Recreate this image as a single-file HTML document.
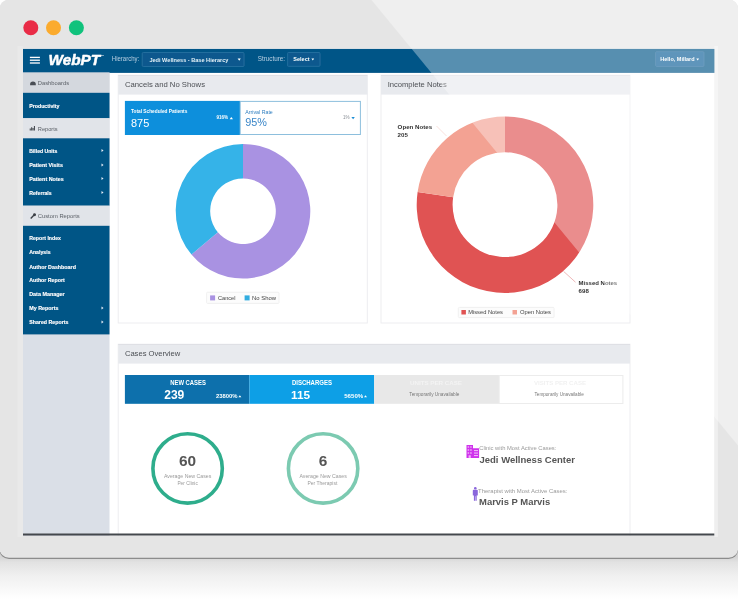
<!DOCTYPE html>
<html lang="en">
<head>
<meta charset="utf-8">
<title>WebPT Analytics Dashboard</title>
<style>
html,body{margin:0;padding:0;background:#ffffff;}
body{width:738px;height:608px;overflow:hidden;}
svg{display:block;font-family:"Liberation Sans",sans-serif;}
</style>
</head>
<body>
<svg width="738" height="608" viewBox="0 0 738 608">
<defs>
<linearGradient id="shadow" x1="0" y1="0" x2="0" y2="1">
<stop offset="0" stop-color="#d4d4d4"/><stop offset="0.143" stop-color="#d4d4d4"/><stop offset="0.25" stop-color="#e2e2e2"/><stop offset="0.53" stop-color="#f0f0f0"/><stop offset="1" stop-color="#ffffff"/>
</linearGradient>
<filter id="soft" x="0" y="0" width="738" height="608" filterUnits="userSpaceOnUse"><feGaussianBlur stdDeviation="0.35"/></filter>
<clipPath id="frameclip"><rect x="-0.5" y="-0.5" width="738.6" height="558.2" rx="9.5" ry="9.5"/></clipPath>
<clipPath id="screen"><rect x="23" y="48.7" width="691.3" height="487"/></clipPath>
</defs>
<rect x="0" y="0" width="738" height="608" fill="#ffffff"/>
<rect x="0" y="550" width="738" height="49" fill="url(#shadow)"/>
<rect x="-0.5" y="0.9" width="738.6" height="558.2" rx="9.5" ry="9.5" fill="#8c8c8c"/>
<rect x="-0.5" y="-0.5" width="738.6" height="558.2" rx="9.5" ry="9.5" fill="#e5e5e5"/>
<path d="M371.5 0L738 445.6V0Z" fill="#efefef" clip-path="url(#frameclip)"/>
<circle cx="30.8" cy="27.8" r="7.5" fill="#e92c47"/>
<circle cx="53.5" cy="27.8" r="7.5" fill="#fbab2e"/>
<circle cx="76.4" cy="27.8" r="7.5" fill="#10c27c"/>
<rect x="714.3" y="46" width="3.6" height="491" fill="#ffffff" opacity="0.4"/>
<rect x="17.5" y="46" width="5.5" height="491" fill="#ffffff" opacity="0.18"/>
<g clip-path="url(#screen)"><g filter="url(#soft)">
<rect x="23" y="48" width="692" height="488" fill="#ffffff"/>
<rect x="23" y="48.7" width="692" height="24.2" fill="#055587"/>
<rect x="29.9" y="56.75" width="10" height="1.3" fill="#ffffff"/>
<rect x="29.9" y="59.55" width="10" height="1.3" fill="#ffffff"/>
<rect x="29.9" y="62.35" width="10" height="1.3" fill="#ffffff"/>
<text x="48.50" y="65.1" stroke="#ffffff" stroke-width="0.45" stroke-linejoin="round" font-size="14.40" fill="#ffffff" font-weight="700" font-style="italic" textLength="51.60" lengthAdjust="spacingAndGlyphs">WebPT</text>
<text x="100.6" y="56.4" font-size="2.2" fill="#ffffff" opacity="0.8" font-weight="700">TM</text>
<text x="111.80" y="61.32" font-size="6.74" fill="#b3cfe2" textLength="27.40" lengthAdjust="spacingAndGlyphs">Hierarchy:</text>
<rect x="142.3" y="52.5" width="101.7" height="14" rx="1" fill="#07598e" stroke="#2f78a6" stroke-width="0.7"/>
<text x="149.40" y="61.87" font-size="6.04" fill="#e6f0f7" font-weight="700" textLength="79.10" lengthAdjust="spacingAndGlyphs">Jedi Wellness - Base Hierarcy</text>
<path d="M237.6 58.5h3.2l-1.6 2.2z" fill="#ffffff"/>
<text x="257.70" y="61.34" font-size="7.05" fill="#b3cfe2" textLength="27.30" lengthAdjust="spacingAndGlyphs">Structure:</text>
<rect x="287.6" y="52.5" width="32.4" height="13.8" rx="1" fill="#07598e" stroke="#2f78a6" stroke-width="0.7"/>
<text x="293.30" y="61.39" font-size="5.53" fill="#ffffff" font-weight="700" textLength="16.30" lengthAdjust="spacingAndGlyphs">Select</text>
<path d="M311.4 58.6h2.8l-1.4 1.9z" fill="#ffffff"/>
<rect x="655.6" y="51.8" width="48.4" height="14.6" rx="1" fill="#0a5f98" stroke="#2770a2" stroke-width="0.7"/>
<text x="660.30" y="61.18" font-size="5.51" fill="#ffffff" font-weight="700" textLength="34.30" lengthAdjust="spacingAndGlyphs">Hello, Millard</text>
<path d="M696.3 58.5h2.8l-1.4 1.9z" fill="#ffffff"/>
<rect x="23" y="72.6" width="86.5" height="464" fill="#dadfe7"/>
<rect x="23" y="72.6" width="86.5" height="20.2" fill="#d4d8de"/>
<rect x="23" y="92.8" width="86.5" height="25.4" fill="#055486"/>
<rect x="23" y="118.2" width="86.5" height="20.1" fill="#e1e4e9"/>
<rect x="23" y="138.3" width="86.5" height="67.4" fill="#055486"/>
<rect x="23" y="205.7" width="86.5" height="20.1" fill="#e1e4e9"/>
<rect x="23" y="225.8" width="86.5" height="108.6" fill="#055486"/>
<path d="M30.1 84.3a2.85 2.85 0 0 1 5.7 0v0.9h-5.7z" fill="#4a4e54"/>
<text x="37.80" y="85.09" font-size="5.81" fill="#5a5f66" textLength="31.30" lengthAdjust="spacingAndGlyphs">Dashboards</text>
<path d="M29.7 130.6v-2.2h1.1v2.2zm1.4 0v-3.4h1.1v3.4zm1.4 0v-2.6h1.1v2.6zm1.4 0v-4.5h1.1v4.5z" fill="#4a4e54"/>
<text x="37.80" y="130.65" font-size="5.68" fill="#5a5f66" textLength="19.90" lengthAdjust="spacingAndGlyphs">Reports</text>
<path d="M30.2 218l2.9-2.9a1.5 1.5 0 1 1 1 1l-2.9 2.9z" fill="#3c4046"/>
<text x="37.80" y="218.39" font-size="5.80" fill="#5a5f66" textLength="41.90" lengthAdjust="spacingAndGlyphs">Custom Reports</text>
<text stroke="#ffffff" stroke-width="0.15" x="29.20" y="107.87" font-size="6.03" fill="#ffffff" font-weight="700" textLength="30.30" lengthAdjust="spacingAndGlyphs">Productivity</text>
<text stroke="#ffffff" stroke-width="0.15" x="29.20" y="152.62" font-size="5.88" fill="#ffffff" font-weight="700" textLength="28.10" lengthAdjust="spacingAndGlyphs">Billed Units</text>
<path d="M101.5 149.00l2 1.5l-2 1.5z" fill="#e8f1f8"/>
<text stroke="#ffffff" stroke-width="0.15" x="29.20" y="167.13" font-size="6.19" fill="#ffffff" font-weight="700" textLength="33.70" lengthAdjust="spacingAndGlyphs">Patient Visits</text>
<path d="M101.5 163.40l2 1.5l-2 1.5z" fill="#e8f1f8"/>
<text stroke="#ffffff" stroke-width="0.15" x="29.20" y="180.84" font-size="6.21" fill="#ffffff" font-weight="700" textLength="34.50" lengthAdjust="spacingAndGlyphs">Patient Notes</text>
<path d="M101.5 177.10l2 1.5l-2 1.5z" fill="#e8f1f8"/>
<text stroke="#ffffff" stroke-width="0.15" x="29.20" y="194.55" font-size="5.97" fill="#ffffff" font-weight="700" textLength="22.50" lengthAdjust="spacingAndGlyphs">Referrals</text>
<path d="M101.5 190.90l2 1.5l-2 1.5z" fill="#e8f1f8"/>
<text stroke="#ffffff" stroke-width="0.15" x="29.20" y="240.25" font-size="5.98" fill="#ffffff" font-weight="700" textLength="31.80" lengthAdjust="spacingAndGlyphs">Report Index</text>
<text stroke="#ffffff" stroke-width="0.15" x="29.20" y="254.45" font-size="5.98" fill="#ffffff" font-weight="700" textLength="21.40" lengthAdjust="spacingAndGlyphs">Analysis</text>
<text stroke="#ffffff" stroke-width="0.15" x="29.20" y="268.50" font-size="6.12" fill="#ffffff" font-weight="700" textLength="46.70" lengthAdjust="spacingAndGlyphs">Author Dashboard</text>
<text stroke="#ffffff" stroke-width="0.15" x="29.20" y="282.27" font-size="6.02" fill="#ffffff" font-weight="700" textLength="35.50" lengthAdjust="spacingAndGlyphs">Author Report</text>
<text stroke="#ffffff" stroke-width="0.15" x="29.20" y="296.04" font-size="6.23" fill="#ffffff" font-weight="700" textLength="35.50" lengthAdjust="spacingAndGlyphs">Data Manager</text>
<text stroke="#ffffff" stroke-width="0.15" x="29.20" y="310.23" font-size="6.19" fill="#ffffff" font-weight="700" textLength="29.30" lengthAdjust="spacingAndGlyphs">My Reports</text>
<path d="M101.5 306.50l2 1.5l-2 1.5z" fill="#e8f1f8"/>
<text stroke="#ffffff" stroke-width="0.15" x="29.20" y="324.08" font-size="6.05" fill="#ffffff" font-weight="700" textLength="39.20" lengthAdjust="spacingAndGlyphs">Shared Reports</text>
<path d="M101.5 320.40l2 1.5l-2 1.5z" fill="#e8f1f8"/>
<rect x="118.2" y="75.2" width="249.10000000000002" height="247.8" fill="#ffffff" stroke="#ededf0" stroke-width="1"/>
<rect x="118.2" y="75.2" width="249.10000000000002" height="19.4" fill="#e8eaee"/>
<rect x="118.2" y="75.2" width="249.10000000000002" height="0.8" fill="#dcdee3"/>
<text x="124.90" y="87.27" font-size="7.71" fill="#4c4f54" textLength="80.10" lengthAdjust="spacingAndGlyphs">Cancels and No Shows</text>
<rect x="381" y="75.2" width="249" height="247.8" fill="#ffffff" stroke="#ededf0" stroke-width="1"/>
<rect x="381" y="75.2" width="249" height="19.4" fill="#e8eaee"/>
<rect x="381" y="75.2" width="249" height="0.8" fill="#dcdee3"/>
<text x="387.70" y="87.23" font-size="7.60" fill="#4c4f54" textLength="59.10" lengthAdjust="spacingAndGlyphs">Incomplete Notes</text>
<rect x="118.2" y="344.2" width="511.8" height="215.8" fill="#ffffff" stroke="#ededf0" stroke-width="1"/>
<rect x="118.2" y="344.2" width="511.8" height="19.4" fill="#e8eaee"/>
<rect x="118.2" y="344.2" width="511.8" height="0.8" fill="#dcdee3"/>
<text x="124.90" y="356.24" font-size="7.61" fill="#4c4f54" textLength="55.40" lengthAdjust="spacingAndGlyphs">Cases Overview</text>
<rect x="124.9" y="100.9" width="115.3" height="34.1" fill="#0c8fdc"/>
<rect x="240.2" y="101.4" width="120.2" height="33.1" fill="#ffffff" stroke="#8dbfdd" stroke-width="1"/>
<text x="131.00" y="113.42" font-size="4.76" fill="#ffffff" font-weight="700" textLength="56.30" lengthAdjust="spacingAndGlyphs">Total Scheduled Patients</text>
<text x="131.00" y="126.55" font-size="11.52" fill="#ffffff" textLength="18.30" lengthAdjust="spacingAndGlyphs">875</text>
<text x="216.40" y="119.43" font-size="4.54" fill="#ffffff" font-weight="700" textLength="11.60" lengthAdjust="spacingAndGlyphs">916%</text>
<path d="M229.6 119.2h3.4l-1.7-2.2z" fill="#ffffff"/>
<text x="245.30" y="113.60" font-size="5.26" fill="#2f7fc0" textLength="27.50" lengthAdjust="spacingAndGlyphs">Arrival Rate</text>
<text x="245.30" y="126.30" font-size="10.84" fill="#3a86c8" textLength="21.70" lengthAdjust="spacingAndGlyphs">95%</text>
<text x="342.90" y="119.44" font-size="4.57" fill="#8a8f96" textLength="6.60" lengthAdjust="spacingAndGlyphs">1%</text>
<path d="M351.4 117h3.4l-1.7 2.2z" fill="#1f8fd6"/>
<path d="M243.00 143.90A67.3 67.3 0 1 1 191.45 254.46L217.87 232.28A32.8 32.8 0 1 0 243.00 178.40Z" fill="#a992e2"/>
<path d="M191.45 254.46A67.3 67.3 0 0 1 243.00 143.90L243.00 178.40A32.8 32.8 0 0 0 217.87 232.28Z" fill="#36b3e8"/>
<rect x="206.6" y="292.2" width="72.4" height="11.2" rx="1" fill="#fcfcfc" stroke="#ebebeb" stroke-width="0.7"/>
<rect x="210.1" y="295.4" width="5" height="5" fill="#a992e2"/>
<text x="218.00" y="300.02" font-size="5.62" fill="#444" textLength="17.50" lengthAdjust="spacingAndGlyphs">Cancel</text>
<rect x="244.6" y="295.4" width="5" height="5" fill="#30ade0"/>
<text x="252.00" y="300.13" font-size="5.91" fill="#444" textLength="24.00" lengthAdjust="spacingAndGlyphs">No Show</text>
<path d="M505.00 116.40A88.3 88.3 0 1 1 417.62 191.95L453.15 197.14A52.4 52.4 0 1 0 505.00 152.30Z" fill="#e05252"/>
<path d="M417.62 191.95A88.3 88.3 0 0 1 505.00 116.40L505.00 152.30A52.4 52.4 0 0 0 453.15 197.14Z" fill="#f3a293"/>
<text x="397.60" y="129.12" font-size="6.17" fill="#333" font-weight="700" textLength="34.60" lengthAdjust="spacingAndGlyphs">Open Notes</text>
<text x="397.60" y="137.30" font-size="6.11" fill="#333" font-weight="700" textLength="10.20" lengthAdjust="spacingAndGlyphs">205</text>
<path d="M436.5 126L446.5 136" stroke="#f6d6d0" stroke-width="0.7" fill="none"/>
<text x="578.60" y="285.16" font-size="5.99" fill="#333" font-weight="700" textLength="38.60" lengthAdjust="spacingAndGlyphs">Missed Notes</text>
<text x="578.60" y="293.10" font-size="6.11" fill="#333" font-weight="700" textLength="10.20" lengthAdjust="spacingAndGlyphs">698</text>
<path d="M563.5 271.3L575.5 282.2" stroke="#eaa4a6" stroke-width="0.8" fill="none"/>
<rect x="458.3" y="307.4" width="95.8" height="10.2" rx="1" fill="#fcfcfc" stroke="#ebebeb" stroke-width="0.7"/>
<rect x="461.4" y="310" width="4.5" height="4.5" fill="#e05252"/>
<text x="468.20" y="314.37" font-size="5.75" fill="#444" textLength="34.80" lengthAdjust="spacingAndGlyphs">Missed Notes</text>
<rect x="512.5" y="310" width="4.5" height="4.5" fill="#f3a293"/>
<text x="520.00" y="314.39" font-size="5.81" fill="#444" textLength="31.00" lengthAdjust="spacingAndGlyphs">Open Notes</text>
<rect x="124.9" y="375" width="124.5" height="28.8" fill="#0970ac"/>
<rect x="249.4" y="375" width="124.8" height="28.8" fill="#0a9fe6"/>
<rect x="374.2" y="375" width="125" height="28.8" fill="#e8e8e8"/>
<rect x="499.2" y="375.5" width="123.7" height="28" fill="#ffffff" stroke="#ececec" stroke-width="1"/>
<text x="170.20" y="384.59" font-size="6.37" fill="#ffffff" font-weight="700" textLength="35.70" lengthAdjust="spacingAndGlyphs">NEW CASES</text>
<text x="164.20" y="399.44" font-size="12.05" fill="#ffffff" font-weight="700" textLength="20.10" lengthAdjust="spacingAndGlyphs">239</text>
<text x="216.00" y="397.72" font-size="5.89" fill="#ffffff" font-weight="700" textLength="21.60" lengthAdjust="spacingAndGlyphs">23800%</text>
<path d="M238.4 397.2h3l-1.5-2z" fill="#ffffff"/>
<text x="291.90" y="384.64" font-size="6.50" fill="#ffffff" font-weight="700" textLength="40.10" lengthAdjust="spacingAndGlyphs">DISCHARGES</text>
<text x="291.00" y="399.34" font-size="11.78" fill="#ffffff" font-weight="700" textLength="19.00" lengthAdjust="spacingAndGlyphs">115</text>
<text x="344.20" y="397.81" font-size="6.13" fill="#ffffff" font-weight="700" textLength="19.10" lengthAdjust="spacingAndGlyphs">5650%</text>
<path d="M364 397.2h3l-1.5-2z" fill="#ffffff"/>
<text x="410.00" y="384.63" font-size="6.20" fill="#f3f3f3" font-weight="700" textLength="52.00" lengthAdjust="spacingAndGlyphs">UNITS PER CASE</text>
<text x="409.30" y="396.29" font-size="4.70" fill="#777" textLength="50.10" lengthAdjust="spacingAndGlyphs">Temporarily Unavailable</text>
<text x="534.00" y="384.59" font-size="6.08" fill="#f1f1f1" font-weight="700" textLength="52.00" lengthAdjust="spacingAndGlyphs">VISITS PER CASE</text>
<text x="534.50" y="396.26" font-size="4.62" fill="#777" textLength="49.30" lengthAdjust="spacingAndGlyphs">Temporarily Unavailable</text>
<circle cx="187.6" cy="468.4" r="34.7" fill="none" stroke="#2fad8c" stroke-width="3.6"/>
<circle cx="323.1" cy="468.4" r="34.7" fill="none" stroke="#7ccab1" stroke-width="3.6"/>
<text x="187.60" y="466.34" font-size="15.40" fill="#555" text-anchor="middle" font-weight="700">60</text>
<text x="323.10" y="466.34" font-size="15.40" fill="#555" text-anchor="middle" font-weight="700">6</text>
<text x="163.90" y="477.88" font-size="5.21" fill="#999" textLength="47.40" lengthAdjust="spacingAndGlyphs">Average New Cases</text>
<text x="177.40" y="484.52" font-size="4.77" fill="#999" textLength="20.40" lengthAdjust="spacingAndGlyphs">Per Clinic</text>
<text x="299.40" y="477.88" font-size="5.21" fill="#999" textLength="47.40" lengthAdjust="spacingAndGlyphs">Average New Cases</text>
<text x="307.50" y="484.59" font-size="4.98" fill="#999" textLength="29.80" lengthAdjust="spacingAndGlyphs">Per Therapist</text>
<path d="M466.5 444.9h6.5v3.3h6.1v9.7h-12.6z" fill="#cf33ec"/>
<g fill="#efb4f8"><rect x="467.6" y="446.3" width="1.5" height="1.4"/><rect x="470.2" y="446.3" width="1.5" height="1.4"/><rect x="467.6" y="449.3" width="1.5" height="1.4"/><rect x="470.2" y="449.3" width="1.5" height="1.4"/><rect x="467.6" y="452.3" width="1.5" height="1.4"/><rect x="470.2" y="452.3" width="1.5" height="1.4"/><rect x="474" y="450" width="4" height="1.1"/><rect x="474" y="452.5" width="4" height="1.1"/><rect x="474" y="455" width="4" height="1.1"/><rect x="468.6" y="455.3" width="2.2" height="2.6"/></g>
<text x="479.30" y="450.49" font-size="5.81" fill="#9a9a9a" textLength="77.10" lengthAdjust="spacingAndGlyphs">Clinic with Most Active Cases:</text>
<text x="479.50" y="462.82" font-size="9.50" fill="#555" font-weight="700" textLength="95.40" lengthAdjust="spacingAndGlyphs">Jedi Wellness Center</text>
<circle cx="475.3" cy="488.2" r="1.3" fill="#8a66dc"/><path d="M472.8 490.6a0.9 0.9 0 0 1 0.9-0.9h3.2a0.9 0.9 0 0 1 0.9 0.9v4.6a0.6 0.6 0 0 1-1.1 0v1.1v4.4h-1.2v-4.4h-0.4v4.4h-1.2v-5.5a0.6 0.6 0 0 1-1.1 0z" fill="#8a66dc"/>
<text x="478.10" y="493.14" font-size="5.96" fill="#9a9a9a" textLength="89.40" lengthAdjust="spacingAndGlyphs">Therapist with Most Active Cases:</text>
<text x="479.10" y="504.69" font-size="9.43" fill="#555" font-weight="700" textLength="71.10" lengthAdjust="spacingAndGlyphs">Marvis P Marvis</text>
</g>
<rect x="23" y="533.5" width="692" height="2.2" fill="#44484d"/>
</g>
<path d="M371.5 0L738 445.6V0Z" fill="#ffffff" opacity="0.34" clip-path="url(#screen)"/>
</svg>
</body>
</html>
